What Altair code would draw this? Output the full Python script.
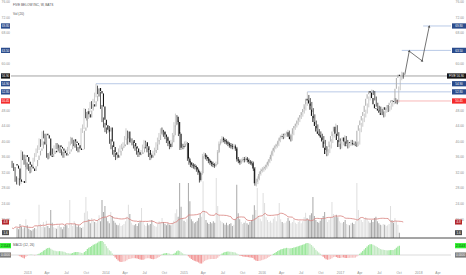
import altair as alt
import numpy as np
import pandas as pd

FONT = "Liberation Sans"

# ---------------- data (weekly) ----------------
FIRST_WEEK = "2012-10-22"
FIRST_OPEN = 34.2
closes = [
    33.8, 33.0, 30.2, 29.6, 29.8, 29.3, 36.5, 36.0, 34.8, 34.0,
    33.5, 33.0, 32.4, 33.6, 35.2, 36.4, 37.6, 38.2, 40.0, 39.2,
    42.0, 41.6, 40.8, 36.4, 36.0, 36.8, 37.6, 37.2, 38.4, 39.0,
    38.6, 38.2, 37.6, 37.0, 36.4, 36.8, 37.4, 38.0, 39.4, 40.6,
    40.0, 39.6, 39.0, 38.2, 37.8, 38.0, 42.8, 43.6, 47.8, 47.0,
    46.2, 48.0, 49.6, 49.0, 50.4, 51.8, 53.8, 53.0, 52.4, 49.0,
    45.6, 44.2, 43.0, 42.6, 43.6, 40.0, 38.6, 37.2, 36.6, 35.8,
    36.4, 37.6, 38.4, 38.8, 39.2, 40.8, 42.6, 39.8, 40.2, 40.4,
    39.6, 38.8, 38.2, 37.2, 36.6, 36.8, 37.2, 38.6, 39.8, 38.8,
    37.8, 36.6, 35.8, 36.4, 37.0, 37.8, 39.2, 40.4, 41.6, 42.8,
    42.6, 41.8, 41.2, 40.2, 39.4, 38.6, 39.8, 41.6, 44.2, 46.4,
    45.0, 42.0, 38.4, 38.8, 38.6, 39.4, 39.6, 35.6, 34.6, 34.0,
    33.8, 33.6, 33.4, 32.8, 32.0, 30.0, 31.8, 36.2, 36.6, 36.0,
    35.6, 35.0, 34.6, 34.2, 34.0, 33.8, 34.2, 37.2, 39.4, 40.0,
    40.8, 40.4, 40.0, 39.8, 39.4, 39.0, 38.8, 38.6, 38.8, 38.2,
    35.4, 35.0, 34.6, 35.0, 35.4, 35.2, 35.6, 35.2, 34.8, 34.6,
    34.4, 33.0, 29.2, 29.6, 30.4, 31.6, 32.4, 32.8, 33.0, 33.4,
    34.0, 34.8, 35.4, 36.6, 37.6, 38.4, 38.8, 39.2, 40.2, 41.0,
    41.4, 41.2, 41.6, 42.0, 42.4, 41.2, 40.6, 42.0, 43.4, 44.0,
    44.6, 45.4, 46.2, 46.8, 47.6, 48.4, 49.6, 51.0, 50.6, 49.8,
    48.2, 46.6, 45.0, 44.0, 42.6, 42.0, 41.6, 41.0, 40.0, 38.4,
    36.8, 37.4, 38.6, 40.0, 41.4, 42.6, 43.8, 42.0, 40.4, 38.6,
    39.4, 40.2, 41.0, 40.0, 38.8, 39.2, 39.8, 39.6, 39.6, 39.4,
    39.2, 39.4, 42.8, 44.2, 45.4, 46.6, 47.6, 49.2, 51.0, 52.2,
    53.0, 52.6, 51.2, 49.6, 48.6, 48.4, 48.0, 47.4, 46.8, 47.8,
    48.8, 48.2, 48.6, 49.4, 50.0, 50.6, 50.4, 50.2, 53.6, 56.4,
    57.2, 56.9,
]
highs = [
    35.0, 34.4, 33.4, 31.0, 30.6, 30.4, 37.8, 37.4, 36.6, 35.4,
    34.6, 34.2, 33.6, 34.2, 35.8, 37.0, 38.2, 39.0, 40.8, 40.6,
    42.6, 42.8, 42.0, 41.0, 37.0, 37.4, 38.2, 38.2, 39.0, 39.6,
    39.6, 39.2, 38.8, 38.0, 37.4, 37.4, 38.0, 38.6, 40.0, 41.2,
    41.0, 40.4, 40.0, 39.4, 38.6, 38.6, 43.4, 44.4, 48.6, 48.4,
    47.6, 48.6, 50.2, 50.4, 51.0, 52.6, 54.9, 54.4, 53.6, 52.8,
    49.4, 46.2, 44.8, 43.6, 44.2, 44.0, 40.6, 39.0, 37.8, 37.0,
    37.0, 38.2, 39.0, 39.4, 39.8, 41.4, 43.4, 42.8, 40.8, 41.0,
    40.8, 40.0, 39.2, 38.6, 37.6, 37.4, 37.8, 39.2, 40.4, 40.2,
    39.2, 38.2, 37.0, 37.0, 37.6, 38.4, 39.8, 41.0, 42.2, 43.4,
    43.6, 43.0, 42.4, 41.6, 40.8, 39.8, 40.4, 42.2, 45.0, 47.2,
    46.8, 45.4, 42.4, 39.6, 39.4, 40.0, 40.2, 39.8, 36.0, 35.0,
    34.6, 34.4, 34.2, 33.8, 33.2, 32.4, 32.4, 36.8, 37.2, 37.0,
    36.4, 36.0, 35.4, 35.0, 34.8, 34.4, 34.8, 37.8, 40.0, 40.6,
    41.4, 41.2, 40.8, 40.6, 40.2, 39.8, 39.6, 39.4, 39.4, 39.2,
    38.6, 36.0, 35.4, 35.6, 36.0, 36.0, 36.2, 36.0, 35.6, 35.2,
    35.0, 34.8, 33.4, 30.4, 31.0, 32.2, 33.0, 33.4, 33.6, 34.0,
    34.6, 35.4, 36.0, 37.2, 38.2, 39.0, 39.4, 39.8, 40.8, 41.6,
    42.0, 42.0, 42.2, 42.6, 43.0, 42.8, 41.6, 42.6, 44.0, 44.6,
    45.2, 46.0, 46.8, 47.4, 48.2, 49.0, 50.2, 52.8, 52.0, 51.2,
    50.2, 48.6, 47.0, 45.4, 44.4, 43.2, 42.6, 42.0, 41.4, 40.4,
    38.8, 38.0, 39.2, 40.6, 42.0, 43.2, 44.6, 44.2, 42.4, 40.8,
    40.0, 40.8, 41.6, 41.4, 40.4, 39.8, 40.4, 40.4, 40.2, 40.0,
    39.8, 40.0, 43.4, 44.8, 46.0, 47.2, 48.2, 49.8, 51.6, 52.8,
    53.4, 53.2, 53.0, 51.6, 50.0, 49.2, 49.0, 48.4, 47.8, 48.4,
    49.4, 49.4, 49.2, 50.0, 50.6, 51.2, 51.2, 50.8, 54.2, 57.2,
    58.0, 57.8,
]
lows = [
    33.2, 32.4, 29.6, 28.9, 28.8, 28.6, 29.0, 35.2, 34.0, 33.4,
    32.8, 32.4, 31.8, 32.0, 33.2, 34.8, 36.0, 37.0, 37.8, 38.6,
    39.0, 40.8, 40.0, 35.8, 35.4, 35.6, 36.4, 36.6, 36.8, 38.0,
    38.0, 37.6, 37.0, 36.4, 35.8, 35.8, 36.4, 37.0, 37.6, 39.0,
    39.4, 38.8, 38.4, 37.6, 37.2, 37.2, 37.8, 42.2, 43.2, 46.0,
    45.4, 45.8, 47.6, 48.4, 48.6, 50.0, 51.4, 52.2, 51.6, 48.4,
    45.0, 43.6, 42.4, 42.0, 42.2, 39.4, 38.0, 36.6, 36.0, 35.2,
    35.4, 36.0, 37.2, 38.0, 38.2, 38.8, 40.4, 39.2, 39.2, 39.6,
    39.0, 38.2, 37.6, 36.6, 36.0, 36.0, 36.4, 36.8, 38.2, 38.2,
    37.2, 36.0, 35.2, 35.4, 36.0, 36.6, 37.4, 38.8, 40.0, 41.2,
    42.0, 41.2, 40.6, 39.6, 38.8, 38.0, 38.2, 39.4, 41.2, 43.8,
    44.4, 41.4, 37.8, 37.8, 38.0, 38.2, 39.0, 35.0, 34.0, 33.4,
    33.2, 33.0, 32.8, 32.2, 31.4, 29.4, 29.6, 31.4, 35.6, 35.4,
    35.0, 34.4, 34.0, 33.6, 33.4, 33.2, 33.4, 34.0, 37.0, 39.0,
    39.6, 39.8, 39.4, 39.2, 38.8, 38.4, 38.2, 38.0, 38.0, 37.6,
    34.8, 34.4, 34.0, 34.2, 34.6, 34.6, 34.8, 34.6, 34.2, 34.0,
    33.8, 32.4, 28.6, 28.4, 29.0, 30.0, 31.2, 32.0, 32.2, 32.6,
    33.0, 33.6, 34.4, 35.0, 36.2, 37.2, 38.0, 38.4, 38.8, 39.8,
    40.6, 40.6, 40.8, 41.2, 41.6, 40.6, 40.0, 40.2, 41.6, 43.0,
    43.6, 44.2, 45.0, 45.8, 46.4, 47.2, 48.0, 49.2, 50.0, 49.2,
    47.6, 46.0, 44.4, 43.4, 42.0, 41.4, 41.0, 40.4, 39.4, 37.8,
    36.2, 36.4, 37.0, 38.2, 39.6, 41.0, 42.2, 41.4, 39.8, 38.0,
    38.2, 39.0, 39.8, 39.4, 38.2, 38.4, 38.8, 39.0, 39.0, 38.8,
    38.6, 38.8, 39.2, 42.4, 43.8, 45.0, 46.2, 47.2, 48.8, 50.6,
    51.8, 52.0, 50.6, 49.0, 48.0, 47.8, 47.4, 46.8, 46.2, 46.4,
    47.4, 47.6, 47.8, 48.2, 49.0, 49.6, 49.8, 49.6, 50.0, 53.2,
    55.8, 56.2,
]
volumes = [  # millions of shares
    3.0, 2.6, 4.2, 3.4, 2.8, 3.2, 5.6, 3.8, 2.8, 2.4,
    2.2, 2.6, 3.0, 2.8, 3.6, 10.0, 4.2, 3.4, 4.8, 3.2,
    5.2, 3.6, 3.0, 8.4, 4.6, 3.2, 3.0, 2.8, 3.6, 4.0,
    3.2, 2.6, 3.4, 4.0, 3.8, 3.0, 11.4, 4.4, 3.6, 5.0,
    4.2, 3.4, 3.8, 3.2, 3.0, 3.4, 7.6, 12.3, 8.0, 5.6,
    4.4, 6.0, 5.2, 4.8, 4.6, 5.4, 6.8, 5.0, 11.4, 7.8,
    9.6, 6.2, 5.0, 4.4, 7.8, 6.6, 5.2, 4.6, 4.0, 3.8,
    4.4, 3.6, 3.8, 4.2, 5.0, 6.4, 10.0, 7.2, 4.6, 4.0,
    3.8, 4.2, 3.6, 4.4, 5.0, 9.0, 4.8, 4.0, 3.6, 4.4,
    3.8, 4.2, 5.4, 4.0, 3.6, 3.4, 4.2, 5.0, 4.6, 6.0,
    4.8, 4.2, 3.8, 4.4, 4.0, 3.8, 4.6, 5.2, 7.4, 8.6,
    6.4, 16.5, 9.4, 6.0, 5.2, 4.8, 5.6, 16.5, 11.0, 5.6,
    5.0, 4.4, 4.8, 5.2, 6.0, 7.2, 6.4, 17.0, 8.2, 5.4,
    4.6, 4.2, 4.8, 4.4, 5.0, 4.6, 18.0, 9.6, 6.8, 5.2,
    4.8, 4.4, 4.0, 4.6, 3.8, 4.2, 4.4, 3.6, 4.0, 5.6,
    16.0, 7.4, 5.6, 4.8, 4.2, 4.6, 5.2, 4.4, 4.0, 4.8,
    5.4, 7.0, 9.8, 8.4, 15.0, 6.6, 5.8, 5.0, 13.5, 10.5,
    6.2, 5.4, 4.8, 5.2, 4.6, 5.8, 6.4, 5.0, 7.2, 10.5,
    5.6, 4.8, 4.4, 4.6, 5.0, 6.0, 5.2, 4.4, 4.8, 5.6,
    4.6, 4.2, 4.8, 5.2, 4.4, 5.0, 6.2, 7.6, 6.0, 5.4,
    6.8, 7.4, 12.3, 6.6, 5.4, 4.8, 4.6, 5.2, 5.8, 6.6,
    7.8, 5.6, 4.8, 5.4, 6.0, 10.8, 7.2, 6.4, 7.0, 6.2,
    5.0, 4.6, 4.4, 4.8, 5.4, 4.2, 4.0, 3.8, 4.4, 4.6,
    4.2, 5.0, 16.5, 8.4, 6.0, 5.4, 4.8, 5.6, 6.2, 5.8,
    5.0, 4.6, 5.4, 4.8, 6.0, 6.4, 5.0, 4.4, 4.0, 3.8,
    4.2, 4.0, 3.6, 3.8, 4.2, 9.6, 5.4, 4.6, 6.0, 5.0,
    4.0, 1.6,
]

# horizontal levels drawn on the chart
level_price = [56.90, 54.90, 52.80, 50.45, 63.50, 69.80]
level_start = ["2012-10-17", "2013-11-18", "2016-08-01", "2017-09-18", "2017-10-16", "2018-01-24"]
level_kind = ["last", "blue", "blue", "red", "blue", "blue"]

# projected path (arrows)
proj_dates = ["2017-10-30", "2017-11-20", "2018-01-19", "2018-02-21"]
proj_price = [57.2, 63.3, 60.8, 69.6]
proj_head_angle = [None, 10, 126, 12]

price_tick_values = [20, 24, 28, 32, 36, 40, 44, 48, 60, 68, 72, 76]
title_text = "FIVE BELOW INC, W, BATS"
vol_text = "Vol (20)"
macd_text = "MACD (12, 26)"

# ---------------- styling ----------------
BLUE_BOX, BLUE_LINE = "#2b4c8c", "#a7bbdf"
RED_BOX, RED_LINE = "#f42b2b", "#f5a5a5"
LAST_BOX, LAST_LINE = "#141414", "#8c8c8c"
LBL = "#8f8f8f"
FS = 3.4

D0 = alt.DateTime(year=2012, month=10, date=17)
D1 = alt.DateTime(year=2018, month=6, date=3)
D1_STR = "2018-06-03T00:00:00"

PS = alt.Scale(domain=[15.1, 76.5], range=[238, 0], nice=False, zero=False)
VS = alt.Scale(domain=[0, 18], range=[238, 178], nice=False, zero=False)

# ---------------- tables ----------------
dates = pd.date_range(FIRST_WEEK, periods=len(closes), freq="7D")
opens = [FIRST_OPEN] + closes[:-1]
df = pd.DataFrame({
    "date": dates.strftime("%Y-%m-%dT00:00:00"),
    "open": opens, "close": closes, "high": highs, "low": lows, "vol": volumes,
})
up = df["close"] >= df["open"]
df["ccol"] = np.where(up, "#b4b4b4", "#141414")
df["vcol"] = np.where(up, "#dedede", "#a8a8a8")

s = pd.Series(closes, dtype=float)
macd = s.ewm(span=12, adjust=False).mean() - s.ewm(span=26, adjust=False).mean()
rising = macd.diff().fillna(0) >= 0
df["macd"] = macd.values
df["mcol"] = np.select(
    [(macd >= 0) & rising, (macd >= 0) & ~rising, (macd < 0) & ~rising],
    ["#9de79d", "#c4e9c4", "#f29b9b"], default="#f6c4c4")
k = max(macd.max() / 14.0, -macd.min() / 10.0)
MS = alt.Scale(domain=[-11 * k, 15 * k], range=[266, 240], nice=False, zero=False)

lev_col = {"last": LAST_LINE, "blue": BLUE_LINE, "red": RED_LINE}
lev = pd.DataFrame({
    "start": [d + "T00:00:00" for d in level_start],
    "end": D1_STR,
    "price": level_price,
    "lcol": [lev_col[t] for t in level_kind],
})

proj = pd.DataFrame({
    "date": [d + "T00:00:00" for d in proj_dates],
    "price": proj_price,
    "step": list(range(len(proj_dates))),
    "ang": proj_head_angle,
})
heads = proj.dropna(subset=["ang"])

# value boxes on both price scales
box_fill = {"last": LAST_BOX, "blue": BLUE_BOX, "red": RED_BOX}
rows = []
for p, t in zip(level_price, level_kind):
    for side in ("L", "R"):
        if side == "R":
            x0, x1, xc = (436, 455, 445.5) if t == "last" else (441, 455, 448)
            lab = ("FIVE " if t == "last" else "") + f"{p:.2f}"
        else:
            x0, x1, xc = -10, -1, -5.5
            lab = f"{p:.2f}"
        rows.append(dict(price=p, lo=p - 0.68, hi=p + 0.68, x0=x0, x1=x1, xc=xc,
                         bcol=box_fill[t], tcol="#ffffff", label=lab))
pbox = pd.DataFrame(rows)

vma_last = float(np.mean(volumes[-20:]))
vrows = []
for v, col, lab in [(vma_last, "#b3272b", f"{vma_last:.1f}"), (volumes[-1], "#4d4d4d", f"{volumes[-1]:.1f}")]:
    for x0, x1, xc in [(-9, -2, -5.5), (444, 451, 447.5)]:
        vrows.append(dict(v=v, lo=v - 0.75, hi=v + 0.75, x0=x0, x1=x1, xc=xc,
                          bcol=col, tcol="#ffffff", label=lab))
vbox = pd.DataFrame(vrows)

mlast = float(macd.iloc[-1])
mrows = []
for v, col, tc, lab in [(mlast, "#2ef22e", "#0b3d0b", f"{mlast:.4f}"), (0.0, "#7d7d7d", "#ffffff", "0.0000")]:
    for x0, x1, xc in [(-11, 0, -5.5), (444, 455, 449.5)]:
        mrows.append(dict(v=v, lo=v - 2.6 * k, hi=v + 2.6 * k, x0=x0, x1=x1, xc=xc,
                          bcol=col, tcol=tc, label=lab))
mbox = pd.DataFrame(mrows)

titles = pd.DataFrame({"t": [title_text, vol_text, macd_text],
                       "tx": [2, 2, 2], "ty": [5, 14, 245]})

# ---------------- encodings ----------------
quarters = [alt.DateTime(year=y, month=m, date=1)
            for y in range(2013, 2019) for m in (1, 4, 7, 10)
            if not (y == 2018 and m > 4)]
x_axis = alt.Axis(values=quarters,
                  labelExpr="month(datum.value) == 0 ? timeFormat(datum.value, '%Y') : timeFormat(datum.value, '%b')",
                  ticks=False, domain=False, grid=False, labelFontSize=FS, labelColor=LBL,
                  labelFont=FONT, labelPadding=4, labelOverlap=False, title=None)


def X(field="date", axis=None):
    return alt.X(f"{field}:T", scale=alt.Scale(domain=[D0, D1]), axis=axis, title=None)


def price_axis(orient, pad):
    return alt.Axis(orient=orient, values=price_tick_values, format=".2f", ticks=False,
                    domain=False, grid=False, labelFontSize=FS, labelColor=LBL,
                    labelFont=FONT, labelPadding=pad, title=None)


base = alt.Chart(df)

vol_bars = base.mark_bar(width=1.0).encode(
    x=X(), y=alt.Y("vol:Q", scale=VS, axis=None), y2=alt.Y2Datum(0),
    color=alt.Color("vcol:N", scale=None))

vol_ma = base.transform_window(
    ma="mean(vol)", frame=[-19, 0], sort=[alt.SortField("date")]
).mark_line(color="#d8807c", strokeWidth=0.8).encode(
    x=X(), y=alt.Y("ma:Q", scale=VS, axis=None))

levels = alt.Chart(lev).mark_rule(strokeWidth=0.8).encode(
    x=X("start"), x2="end:T", y=alt.Y("price:Q", scale=PS, axis=None),
    color=alt.Color("lcol:N", scale=None))

wicks = base.mark_rule(strokeWidth=0.7).encode(
    x=X(axis=x_axis), y=alt.Y("low:Q", scale=PS, axis=price_axis("right", 4)),
    y2="high:Q", color=alt.Color("ccol:N", scale=None))

bodies = base.mark_bar(width=1.1).encode(
    x=X(), y=alt.Y("open:Q", scale=PS, axis=price_axis("left", 1.5)),
    y2="close:Q", color=alt.Color("ccol:N", scale=None))

proj_line = alt.Chart(proj).mark_line(color="#505050", strokeWidth=0.8).encode(
    x=X(), y=alt.Y("price:Q", scale=PS, axis=None), order="step:Q")

proj_heads = alt.Chart(heads).mark_point(shape="triangle", filled=True, size=7,
                                          color="#505050", opacity=1).encode(
    x=X(), y=alt.Y("price:Q", scale=PS, axis=None), angle=alt.Angle("ang:Q", scale=None))

macd_bars = base.mark_bar(width=1.3).encode(
    x=X(), y=alt.Y("macd:Q", scale=MS, axis=None), y2=alt.Y2Datum(0),
    color=alt.Color("mcol:N", scale=None))

macd_zero = alt.Chart(pd.DataFrame({"z": [0.0]})).mark_rule(color="#c4c4c4", strokeWidth=0.6).encode(
    x=alt.value(0), x2=alt.value(440), y=alt.Y("z:Q", scale=MS, axis=None))


def boxes(table, field, scale):
    r = alt.Chart(table).mark_rect().encode(
        x=alt.X("x0:Q", scale=None), x2="x1:Q",
        y=alt.Y("lo:Q", scale=scale, axis=None), y2="hi:Q",
        color=alt.Color("bcol:N", scale=None))
    t = alt.Chart(table).mark_text(fontSize=3.0, font=FONT).encode(
        x=alt.X("xc:Q", scale=None), y=alt.Y(f"{field}:Q", scale=scale, axis=None),
        text="label:N", color=alt.Color("tcol:N", scale=None))
    return [r, t]


title_marks = alt.Chart(titles).mark_text(align="left", baseline="middle", fontSize=3.2,
                                          font=FONT, color="#555555").encode(
    x=alt.X("tx:Q", scale=None), y=alt.Y("ty:Q", scale=None), text="t:N")

separator = alt.Chart(pd.DataFrame({"a": [0]})).mark_rule(color="#4a4a4a", strokeWidth=1).encode(
    x=alt.value(-11), x2=alt.value(455), y=alt.value(238))

layers = [vol_bars, vol_ma, levels, wicks, bodies, proj_line, proj_heads,
          macd_zero, macd_bars, separator]
layers += boxes(pbox, "price", PS) + boxes(vbox, "v", VS) + boxes(mbox, "v", MS)
layers += [title_marks]

chart = alt.layer(*layers).resolve_scale(x="independent", y="independent").properties(
    width=440, height=266,
    padding={"left": 11, "right": 15, "top": 0, "bottom": 9},
    autosize=alt.AutoSizeParams(type="none"),
    background="white",
).configure_view(stroke=None)

chart.save("out.html", embed_options={"renderer": "svg", "actions": False})
